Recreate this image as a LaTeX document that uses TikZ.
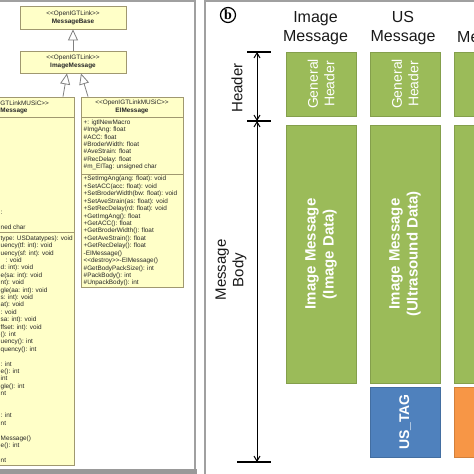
\documentclass[tikz,border=0pt]{standalone}
\usepackage{fontspec}
\setmainfont{Liberation Sans}
\newfontfamily\labfont{Liberation Serif}
\usetikzlibrary{arrows.meta,positioning}

\definecolor{umlfill}{HTML}{FFFFC8}
\definecolor{umlline}{HTML}{A09870}
\definecolor{msggreen}{HTML}{9BBB59}
\definecolor{msgblue}{HTML}{4F81BD}
\definecolor{msgorange}{HTML}{F79646}
\definecolor{framegray}{HTML}{A0A0A0}

\begin{document}
\begin{tikzpicture}[x=1pt, y=-1pt,
	umlbox/.style={draw=umlline, fill=umlfill, line width=0.8pt, inner sep=0pt},
	umltitle/.style={align=center, font=\fontsize{6.4}{8}\selectfont, text=black!85},
	umltext/.style={anchor=west, inner sep=0pt, font=\fontsize{6.4}{7.4}\selectfont,
		text height=4.4pt, text depth=1.3pt, text=black!85},
	inherit/.style={draw=black!50, line width=0.8pt, -{Triangle[open, length=11pt, width=10pt]}},
	msgbox/.style={draw=#1!85!black, fill=#1, line width=0.8pt, text=white,
		rotate=90, align=center, inner sep=0pt},
	colhead/.style={align=center, font=\fontsize{16}{19}\selectfont, text=black!90},
	dimlabel/.style={align=center, rotate=90, font=\fontsize{15}{17.5}\selectfont, text=black!90},
	dimarrow/.style={line width=1pt, {Straight Barb[length=5pt, width=6pt]}-{Straight Barb[length=5pt, width=6pt]}},
	frame/.style={draw=framegray, line width=1.2pt}]

\useasboundingbox (0,0) rectangle (474,474);
\clip (0,0) rectangle (474,474);

% Panel frames
\draw[frame] (0,1) -- (195,1) -- (195,470);
\fill[black!40] (0,469) rectangle (197,474);
\draw[frame] (205,474) -- (205,1) -- (474,1);

%%%%%% (a) class diagram %%%%%%
\node[umlbox, minimum width=106pt, minimum height=23pt] (base) at (73,17.5) {};
\node[umltitle] (baseTxt) at (base) {{<}{<}OpenIGTLink{>}{>}\\\textbf{MessageBase}};

\node[umlbox, minimum width=106pt, minimum height=22pt] (img) at (73,62) {};
\node[umltitle] (imgTxt) at (img) {{<}{<}OpenIGTLink{>}{>}\\\textbf{ImageMessage}};

% US message (cut at the left edge)
\node[umlbox, minimum width=124pt, minimum height=368pt] (usmsg) at (12,281) {};
\node[umltext] (usStereo) at (0.3,103.5) {GTLinkMUSiC{>}{>}};
\node[umltext] (usName) at (0.3,111) {\bfseries Message};
\draw[umlline, line width=0.8pt] (-50,117) -- (74,117);
\draw[umlline, line width=0.8pt] (-50,232) -- (74,232);
\node[umltext] (usAttA) at (0.5,212.6) {:};
\node[umltext] (usAttB) at (0.5,227.5) {ned char};
\foreach \txt [count=\i from 0] in {type: USDatatypes): void, uency(tf: int): void,
	uency(sf: int): void, \hspace*{5pt}: void, d: int): void, e(sa: int): void,
	nt): void, gle(aa: int): void, s: int): void, at): void, : void,
	sa: int): void, ffset: int): void, (): int, uency(): int, quency(): int,
	{}, : int, e(): int, int, gle(): int, nt, {}, {}, : int, nt, {},
	Message(), e(): int, {}, nt}
	\node[umltext] (usOp\i) at (0.5,238.8+7.4*\i) {\txt};

% EI message
\node[umlbox, minimum width=102pt, minimum height=190pt] (eimsg) at (132,192) {};
\node[umltitle] (eiTxt) at (132,107) {{<}{<}OpenIGTLinkMUSiC{>}{>}\\\textbf{EIMessage}};
\draw[umlline, line width=0.8pt] (81,117) -- (183,117);
\draw[umlline, line width=0.8pt] (81,174) -- (183,174);
\foreach \txt [count=\i from 0] in {+: igtlNewMacro, \#ImgAng: float, \#ACC: float,
	\#BroderWidth: float, \#AveStrain: float, \#RecDelay: float, \#m\_EITag: unsigned char}
	\node[umltext] (eiAtt\i) at (83.5,122.7+7.43*\i) {\txt};
\foreach \txt [count=\i from 0] in {+SetImgAng(ang: float): void, +SetACC(acc: float): void,
	+SetBroderWidth(bw: float): void, +SetAveStrain(as: float): void,
	+SetRecDelay(rd: float): void, +GetImgAng(): float, +GetACC(): float,
	+GetBroderWidth(): float, +GetAveStrain(): float, +GetRecDelay(): float,
	-EIMessage(), {<}{<}destroy{>}{>}-EIMessage(), \#GetBodyPackSize(): int,
	\#PackBody(): int, \#UnpackBody(): int}
	\node[umltext] (eiOp\i) at (83.5,179.3+7.43*\i) {\txt};

% Generalisation
\draw[inherit] (img.north) -- (base.south);
\draw[inherit] ([xshift=51pt]usmsg.north) -- ([xshift=-6pt]img.south);
\draw[inherit] ([xshift=-44pt]eimsg.north) -- ([xshift=8pt]img.south);

%%%%%% (b) message structure %%%%%%
\node[circle, draw, line width=1.2pt, minimum size=15pt, inner sep=0pt,
	font=\labfont\bfseries\fontsize{14}{14}\selectfont] (panelB) at (228,15) {b};

% Column headings
\node[colhead] (headA) at (315.5,28) {Image\\Message};
\node[colhead] (headB) at (403,28) {US\\Message};
\node[colhead, anchor=west, inner sep=0pt] (headC) at (457,37.5) {Me};

% Header boxes
\node[msgbox=msggreen, minimum width=64pt, minimum height=70pt,
	font=\fontsize{14}{16.5}\selectfont] (hdrA) at (321,84) {General\\Header};
\node[msgbox=msggreen, minimum width=64pt, minimum height=70pt,
	font=\fontsize{14}{16.5}\selectfont] (hdrB) at (405,84) {General\\Header};
\node[msgbox=msggreen, minimum width=64pt, minimum height=70pt] (hdrC) at (489,84) {};

% Body boxes
\node[msgbox=msggreen, minimum width=258pt, minimum height=70pt,
	font=\bfseries\fontsize{15}{18}\selectfont] (bodyA) at (321,254) {Image Message\\(Image Data)};
\node[msgbox=msggreen, minimum width=258pt, minimum height=70pt,
	font=\bfseries\fontsize{15}{18}\selectfont] (bodyB) at (405,254) {Image Message\\(Ultrasound Data)};
\node[msgbox=msggreen, minimum width=258pt, minimum height=70pt] (bodyC) at (489,254) {};

% Tags
\node[msgbox=msgblue, minimum width=70pt, minimum height=70pt,
	font=\bfseries\fontsize{14}{16}\selectfont] (tagB) at (405,422) {US\_TAG};
\node[msgbox=msgorange, minimum width=70pt, minimum height=70pt] (tagC) at (489,422) {};

% Dimension lines
\coordinate (dimTop) at (257,52);
\coordinate (dimMid) at (257,121);
\coordinate (dimBot) at (257,462);
\draw[line width=1.2pt] (247,52) -- (271,52);
\draw[line width=1.2pt] (247,121) -- (271,121);
\draw[line width=1.2pt] (237,462) -- (271,462);
\draw[dimarrow] (dimTop) -- (dimMid);
\draw[dimarrow] (dimMid) -- (dimBot);
\node[dimlabel] (hdrLbl) at (237,88) {Header};
\node[dimlabel] (bodyLbl) at (231,270) {Message\\Body};

\end{tikzpicture}
\end{document}
